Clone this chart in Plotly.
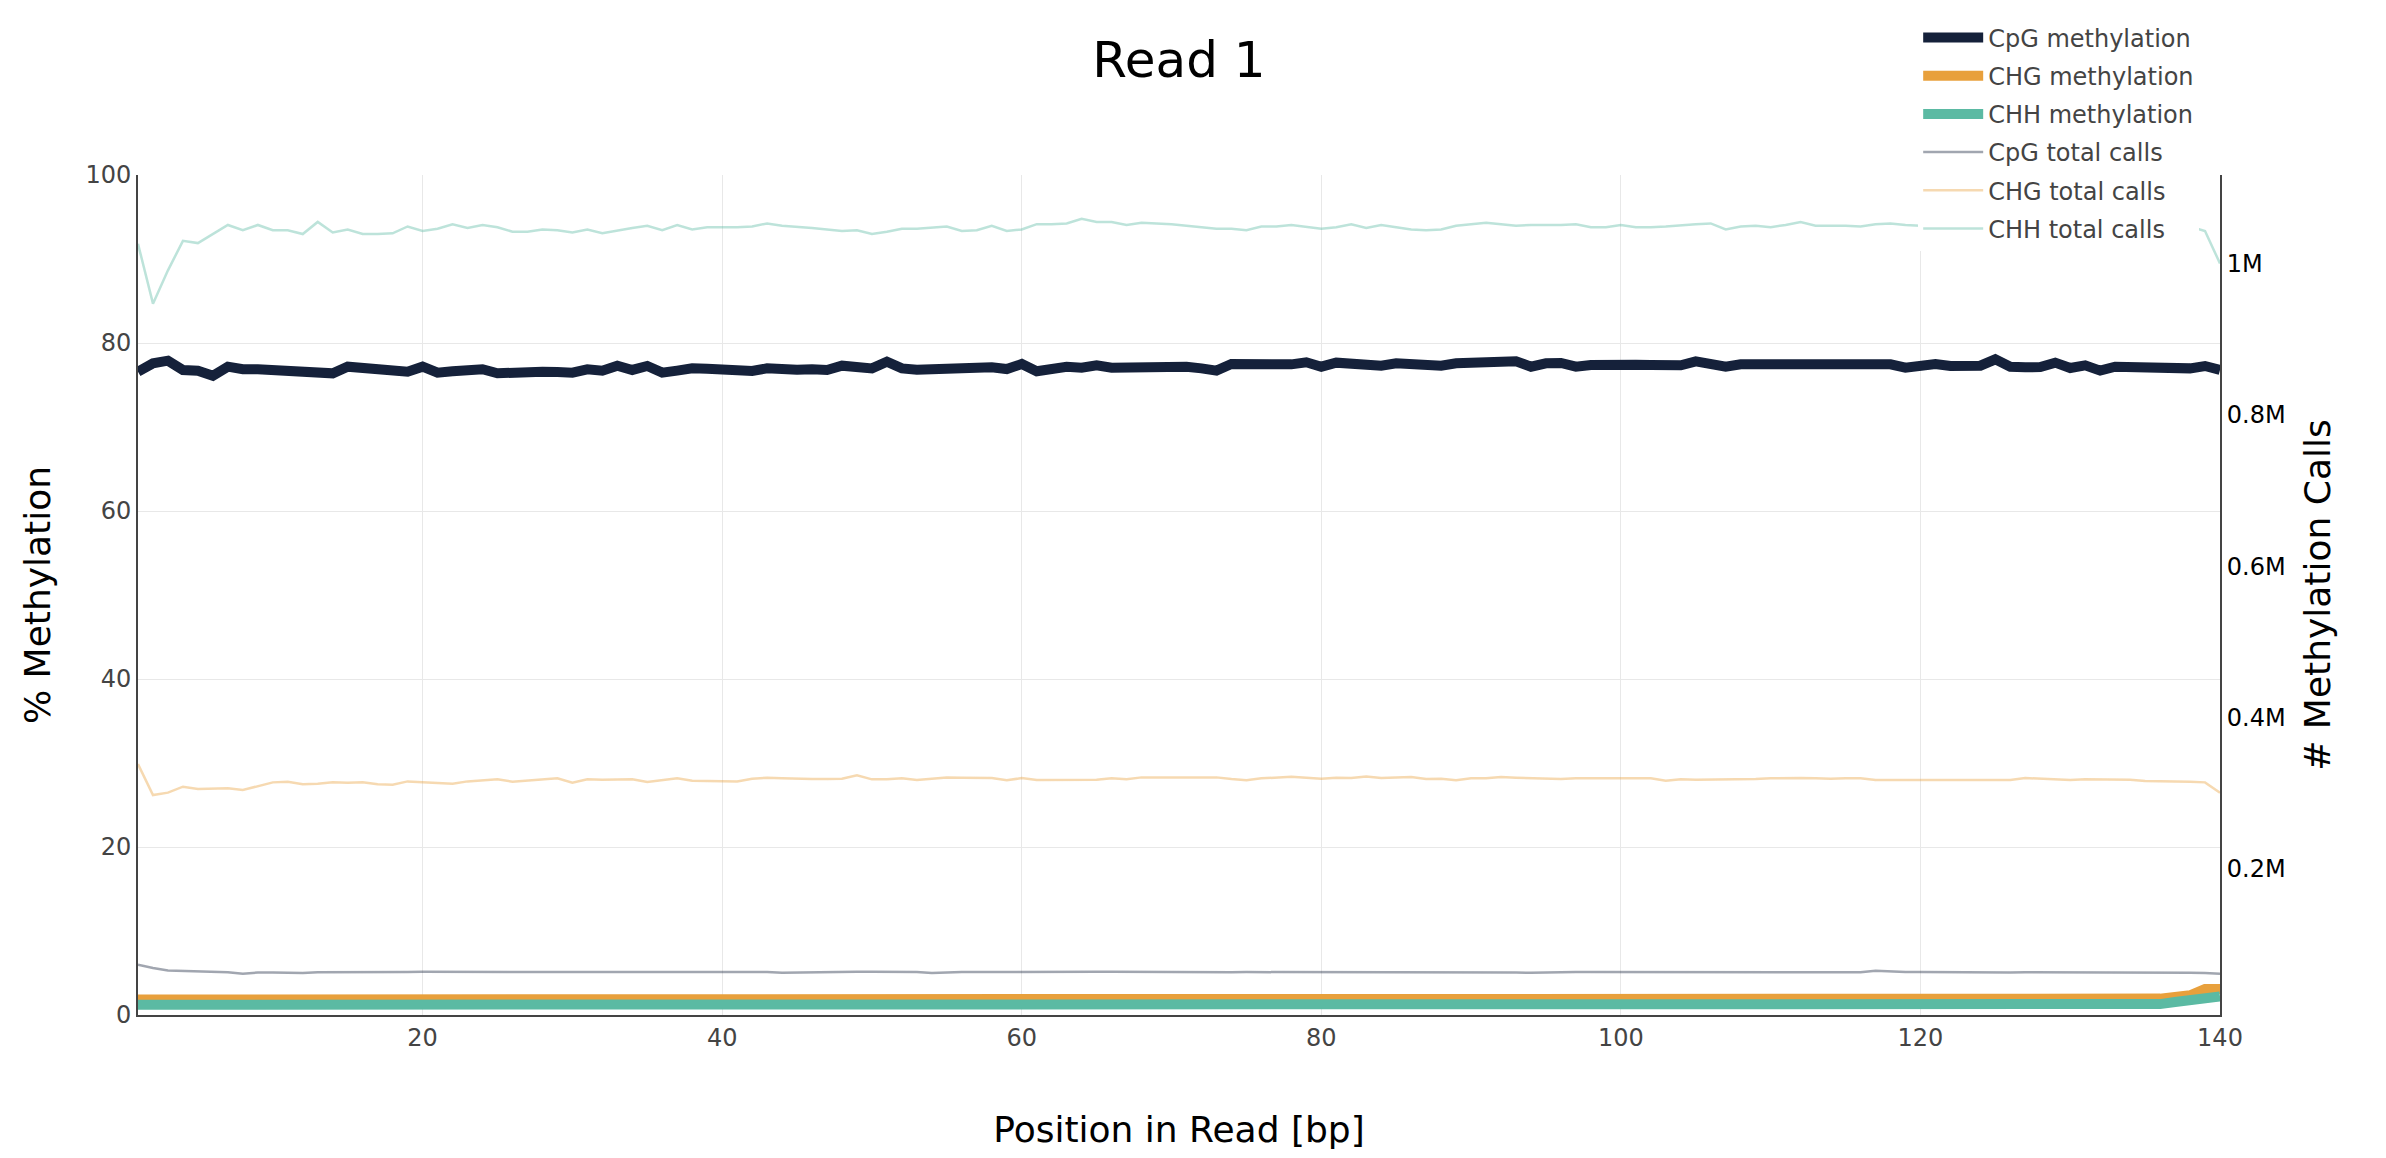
import plotly.graph_objects as go

positions = list(range(1, 141))

cpg_meth = [76.59, 77.58, 77.90, 76.79, 76.71, 76.11, 77.18, 76.87, 76.87, 76.79,
            76.71, 76.71, 76.59, 76.39, 77.18, 77.06, 76.94, 76.79, 76.59, 77.18,
            76.47, 76.63, 76.71, 76.87, 76.39, 76.51, 76.55, 76.59, 76.55, 76.47,
            76.87, 76.71, 77.30, 76.79, 77.26, 76.47, 76.71, 76.98, 76.94, 76.90,
            76.87, 76.67, 76.98, 76.79, 76.83, 76.87, 76.79, 77.30, 77.18, 76.98,
            77.78, 76.98, 76.83, 76.94, 77.02, 77.10, 77.18, 77.10, 76.90, 77.50,
            76.63, 76.98, 77.18, 77.06, 77.34, 77.06, 77.10, 77.18, 77.14, 77.10,
            77.18, 76.98, 76.71, 77.50, 77.46, 77.42, 77.38, 77.46, 77.70, 77.18,
            77.66, 77.50, 77.42, 77.30, 77.58, 77.50, 77.42, 77.30, 77.58, 77.58,
            77.58, 77.58, 77.82, 77.18, 77.58, 77.62, 77.18, 77.38, 77.46, 77.46,
            77.42, 77.38, 77.38, 77.34, 77.82, 77.58, 77.18, 77.46, 77.46, 77.46,
            77.46, 77.46, 77.46, 77.46, 77.46, 77.46, 77.46, 77.46, 77.06, 77.38,
            77.50, 77.26, 77.38, 77.30, 78.06, 77.18, 77.10, 77.14, 77.66, 77.02,
            77.34, 76.71, 77.18, 77.14, 77.10, 77.06, 77.02, 76.98, 77.26, 76.79]

chg_meth = [1.85, 1.85, 1.85, 1.84, 1.84, 1.84, 1.83, 1.83, 1.83, 1.83,
            1.83, 1.82, 1.82, 1.82, 1.82, 1.81, 1.81, 1.81, 1.80, 1.79,
            1.78, 1.78, 1.78, 1.78, 1.78, 1.78, 1.78, 1.78, 1.78, 1.78,
            1.79, 1.79, 1.80, 1.85, 1.97, 2.03, 1.95, 1.87, 1.81, 1.79,
            1.78, 1.78, 1.78, 1.78, 1.78, 1.78, 1.77, 1.77, 1.77, 1.77,
            1.77, 1.77, 1.77, 1.77, 1.77, 1.77, 1.77, 1.77, 1.77, 1.77,
            1.78, 1.78, 1.78, 1.78, 1.78, 1.78, 1.78, 1.78, 1.78, 1.79,
            1.79, 1.79, 1.79, 1.79, 1.79, 1.80, 1.80, 1.80, 1.80, 1.80,
            1.80, 1.81, 1.81, 1.81, 1.81, 1.81, 1.82, 1.82, 1.82, 1.82,
            1.82, 1.83, 1.83, 1.83, 1.83, 1.83, 1.84, 1.84, 1.84, 1.84,
            1.85, 1.85, 1.85, 1.85, 1.85, 1.86, 1.86, 1.86, 1.86, 1.86,
            1.87, 1.87, 1.87, 1.87, 1.87, 1.87, 1.88, 1.88, 1.88, 1.88,
            1.88, 1.89, 1.89, 1.89, 1.89, 1.89, 1.90, 1.90, 1.90, 1.90,
            1.91, 1.91, 1.91, 1.92, 1.92, 1.95, 2.15, 2.35, 3.10, 3.10]

chh_meth = [1.23, 1.23, 1.23, 1.22, 1.22, 1.22, 1.21, 1.21, 1.20, 1.20,
            1.19, 1.18, 1.17, 1.16, 1.15, 1.14, 1.12, 1.11, 1.10, 1.09,
            1.08, 1.08, 1.08, 1.08, 1.08, 1.08, 1.08, 1.08, 1.08, 1.08,
            1.08, 1.08, 1.08, 1.08, 1.08, 1.08, 1.09, 1.09, 1.09, 1.09,
            1.09, 1.09, 1.09, 1.09, 1.09, 1.09, 1.08, 1.07, 1.06, 1.06,
            1.06, 1.06, 1.06, 1.06, 1.06, 1.06, 1.06, 1.06, 1.06, 1.06,
            1.07, 1.07, 1.07, 1.07, 1.07, 1.06, 1.05, 1.05, 1.06, 1.07,
            1.07, 1.07, 1.07, 1.08, 1.08, 1.08, 1.08, 1.08, 1.08, 1.08,
            1.08, 1.08, 1.08, 1.08, 1.08, 1.08, 1.08, 1.08, 1.08, 1.08,
            1.08, 1.08, 1.08, 1.08, 1.07, 1.06, 1.06, 1.07, 1.08, 1.10,
            1.11, 1.12, 1.13, 1.14, 1.15, 1.15, 1.16, 1.16, 1.17, 1.17,
            1.18, 1.18, 1.19, 1.19, 1.20, 1.20, 1.20, 1.21, 1.21, 1.21,
            1.22, 1.22, 1.22, 1.23, 1.23, 1.23, 1.24, 1.24, 1.24, 1.25,
            1.25, 1.25, 1.26, 1.26, 1.26, 1.30, 1.55, 1.80, 2.20, 2.20]

cpg_total = [73300, 69000, 65800, 65200, 64800, 64200, 63600, 61400, 63200, 63000,
             62800, 62500, 63500, 63400, 63300, 63200, 63300, 63500, 63700, 64000,
             64000, 64000, 64000, 64000, 63900, 63900, 63800, 63800, 63800, 63700,
             63700, 63700, 63600, 63600, 63600, 63800, 63800, 63800, 63800, 63800,
             63800, 63800, 63700, 62800, 63200, 63500, 63700, 63900, 64000, 64000,
             64000, 64100, 63800, 62600, 63500, 63800, 63800, 63700, 63700, 63600,
             63500, 63500, 63700, 63900, 64000, 64000, 63900, 63800, 63700, 63700,
             63600, 63300, 62800, 63500, 63700, 63700, 63800, 63800, 63900, 64000,
             64000, 64000, 63900, 63800, 63700, 63600, 63500, 63500, 63400, 63200,
             63300, 63400, 63200, 62800, 63300, 63600, 63700, 63700, 63700, 63700,
             63700, 63600, 63600, 63600, 63600, 63500, 63500, 63500, 63500, 63500,
             63400, 63400, 63300, 63300, 63400, 63600, 65500, 64200, 63800, 63700,
             63600, 63500, 63300, 63000, 62700, 63200, 63500, 63500, 63600, 63600,
             63500, 63500, 63400, 63400, 63300, 63200, 63100, 62800, 62400, 61400]

chg_total = [338600, 297700, 300800, 308700, 305600, 306000, 306500, 304300, 309600, 314400,
             315300, 311800, 312600, 314400, 314000, 314400, 311800, 311300, 315700, 314800,
             314000, 312600, 315700, 317100, 318400, 315300, 316600, 317900, 319700, 314000,
             318400, 317900, 318400, 318400, 314800, 317500, 319700, 316600, 316600, 316200,
             315700, 319200, 320500, 319700, 318800, 318800, 318800, 319200, 323700, 318400,
             318400, 319700, 317500, 319200, 321000, 320500, 320500, 320100, 317100, 320100,
             317500, 317500, 317500, 317500, 317900, 319700, 318400, 321000, 321000, 321000,
             321000, 321000, 321000, 318800, 317100, 319700, 320500, 321900, 320500, 319200,
             320500, 320100, 322300, 320100, 321000, 321400, 318800, 319200, 317100, 319700,
             319700, 321400, 320500, 320100, 319700, 318800, 319700, 319700, 319700, 319700,
             319700, 319700, 316600, 318400, 317900, 317900, 318400, 318400, 318800, 319700,
             320100, 320100, 319700, 319200, 319700, 319700, 317500, 317500, 317500, 317500,
             317500, 317500, 317500, 317500, 318400, 317500, 320100, 319200, 318400, 317500,
             318400, 318400, 318400, 317900, 316200, 316200, 316200, 315300, 314400, 300800]

chh_total = [1026000, 947000, 991000, 1030000, 1027000, 1039000, 1051000, 1044000, 1051000, 1044000,
             1044000, 1039000, 1055000, 1041000, 1045000, 1039000, 1039000, 1040000, 1049000, 1043000,
             1046000, 1052000, 1047000, 1051000, 1048000, 1042000, 1042000, 1045000, 1044000, 1041000,
             1045000, 1040000, 1044000, 1047000, 1050000, 1044000, 1051000, 1045000, 1048000, 1048000,
             1048000, 1049000, 1053000, 1050000, 1049000, 1047000, 1045000, 1043000, 1044000, 1039000,
             1042000, 1046000, 1046000, 1048000, 1049000, 1043000, 1044000, 1050000, 1043000, 1045000,
             1052000, 1052000, 1053000, 1059000, 1055000, 1055000, 1051000, 1054000, 1053000, 1052000,
             1050000, 1048000, 1046000, 1046000, 1044000, 1049000, 1049000, 1051000, 1048000, 1046000,
             1048000, 1052000, 1047000, 1051000, 1048000, 1045000, 1044000, 1045000, 1050000, 1052000,
             1054000, 1052000, 1050000, 1051000, 1051000, 1051000, 1052000, 1048000, 1048000, 1051000,
             1048000, 1048000, 1049000, 1051000, 1052000, 1053000, 1045000, 1049000, 1050000, 1048000,
             1051000, 1055000, 1050000, 1050000, 1050000, 1049000, 1052000, 1053000, 1051000, 1050000,
             1052000, 1049000, 1051000, 1053000, 1050000, 1048000, 1051000, 1052000, 1049000, 1050000,
             1053000, 1051000, 1049000, 1050000, 1052000, 1050000, 1048000, 1049000, 1043000, 1000000]

FONT = "DejaVu Sans"
NAVY = "#15213a"
ORANGE = "#e8a03c"
TEAL = "#5bbaa3"

fig = go.Figure()
fig.add_trace(go.Scatter(x=positions, y=cpg_meth, name="CpG methylation", mode="lines",
                         legendgroup="a", line=dict(color=NAVY, width=10)))
fig.add_trace(go.Scatter(x=positions, y=chg_meth, name="CHG methylation", mode="lines",
                         legendgroup="b", line=dict(color=ORANGE, width=10)))
fig.add_trace(go.Scatter(x=positions, y=chh_meth, name="CHH methylation", mode="lines",
                         legendgroup="c", line=dict(color=TEAL, width=10)))
fig.add_trace(go.Scatter(x=positions, y=cpg_total, name="CpG total calls", mode="lines",
                         legendgroup="d", yaxis="y2",
                         line=dict(color="rgba(21,33,58,0.4)", width=2.5)))
fig.add_trace(go.Scatter(x=positions, y=chg_total, name="CHG total calls", mode="lines",
                         legendgroup="e", yaxis="y2",
                         line=dict(color="rgba(232,160,60,0.4)", width=2.5)))
fig.add_trace(go.Scatter(x=positions, y=chh_total, name="CHH total calls", mode="lines",
                         legendgroup="f", yaxis="y2",
                         line=dict(color="rgba(91,186,163,0.4)", width=2.5)))

W, H = 2370, 1142

fig.update_layout(
    width=W, height=H,
    template="none",
    paper_bgcolor="white", plot_bgcolor="white",
    font=dict(family=FONT, size=24, color="#444"),
    margin=dict(l=130, r=158, t=167, b=135, autoexpand=False),
    title=dict(text="Read 1", x=0.5, xref="paper", xanchor="center",
               y=1 - 51 / H, yref="container", yanchor="middle",
               font=dict(family=FONT, size=50, color="black")),
    showlegend=True,
    legend=dict(x=0.99, xanchor="right", y=1.19, yanchor="top",
                bgcolor="white", font=dict(family=FONT, size=24, color="#444"),
                tracegroupgap=4, itemwidth=60),
    xaxis=dict(range=[1, 140], showgrid=True, gridcolor="#e8e8e8", gridwidth=1,
               showline=True, linecolor="#444", linewidth=2, zeroline=False,
               ticks="", ticklen=0, tickfont=dict(size=24, color="#444"),
               title=dict(text="Position in Read [bp]", font=dict(size=36, color="black"),
                          standoff=66)),
    yaxis=dict(range=[0, 100], showgrid=True, gridcolor="#e8e8e8", gridwidth=1,
               showline=True, linecolor="#444", linewidth=2, zeroline=False,
               ticks="", ticklen=0, dtick=20, tickfont=dict(size=24, color="#444"),
               title=dict(text="% Methylation", font=dict(size=36, color="black"),
                          standoff=24)),
    yaxis2=dict(range=[7000, 1117000], overlaying="y", side="right", showgrid=False,
                showline=True, linecolor="#444", linewidth=2, zeroline=False,
                ticks="", ticklen=0, tickfont=dict(size=24, color="black"),
                title=dict(text="# Methylation Calls", font=dict(size=36, color="black"),
                           standoff=20)),
)

fig.write_html("out.html")
